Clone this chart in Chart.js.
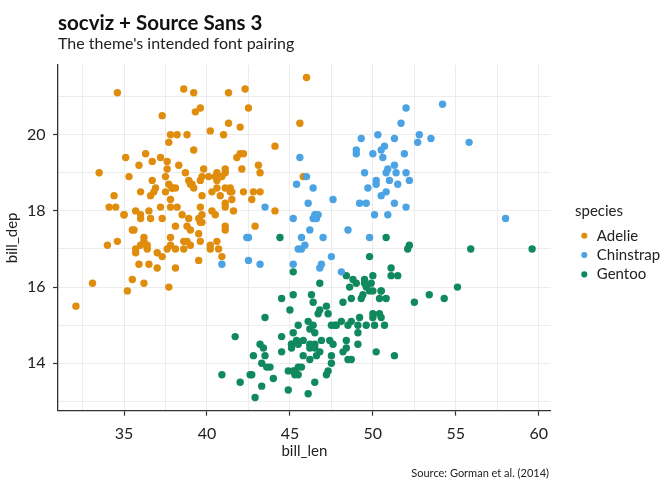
<!DOCTYPE html>
<html><head><meta charset="utf-8">
<script src="https://cdn.jsdelivr.net/npm/chart.js@4.4.1/dist/chart.umd.min.js"></script>
<style>
html,body{margin:0;padding:0;background:#fff;}
#wrap{position:relative;width:672px;height:480px;}
#caption{position:absolute;right:123px;top:466px;font-family:Lato,sans-serif;font-size:11px;color:#222;line-height:14px;white-space:nowrap;}
</style></head><body>
<div id="wrap"><canvas id="c" width="672" height="480"></canvas><div id="caption">Source: Gorman et al. (2014)</div></div>
<script>
const species = ['Adelie', 'Chinstrap', 'Gentoo'];

const adelieLen = [39.1,39.5,40.3,36.7,39.3,38.9,39.2,34.1,42.0,37.8,37.8,41.1,38.6,34.6,36.6,38.7,42.5,34.4,46.0,37.8,37.7,35.9,38.2,38.8,35.3,40.6,40.5,37.9,40.5,39.5,37.2,39.5,40.9,36.4,39.2,38.8,42.2,37.6,39.8,36.5,40.8,36.0,44.1,37.0,39.6,41.1,37.5,36.0,42.3,39.6,40.1,35.0,42.0,34.5,41.4,39.0,40.6,36.5,37.6,35.7,41.3,37.6,41.1,36.4,41.6,35.5,41.1,35.9,41.8,33.5,39.7,39.6,45.8,35.5,42.8,40.9,37.2,36.2,42.1,34.6,42.9,36.7,35.1,37.3,41.3,36.3,36.9,38.3,38.9,35.7,41.1,34.0,39.6,36.2,40.8,38.1,40.3,33.1,43.2,35.0,41.0,37.7,37.8,37.9,39.7,38.6,38.2,38.1,43.2,38.1,45.6,39.7,42.2,39.6,42.7,38.6,37.3,35.7,41.1,36.2,37.7,40.2,41.4,35.2,40.6,38.8,41.5,39.0,44.1,38.5,43.1,36.8,37.5,38.1,41.1,35.6,40.2,37.0,39.7,40.2,40.6,32.1,40.7,37.3,39.0,39.2,36.6,36.0,37.8,36.0,41.5];
const adelieDep = [18.7,17.4,18.0,19.3,20.6,17.8,19.6,18.1,20.2,17.1,17.3,17.6,21.2,21.1,17.8,19.0,20.7,18.4,21.5,18.3,18.7,19.2,18.1,17.2,18.9,18.6,17.9,18.6,18.9,16.7,18.1,17.8,18.9,17.0,21.1,20.0,18.5,19.3,19.1,18.0,18.4,18.5,19.7,16.9,18.8,19.0,18.9,17.9,21.2,17.7,18.9,17.9,19.5,18.1,18.6,17.5,18.8,16.6,19.1,16.9,21.1,17.0,18.2,17.1,18.0,16.2,19.1,16.6,19.4,19.0,18.4,17.2,18.9,17.5,18.5,16.8,19.4,16.1,19.1,17.2,17.6,18.8,19.4,17.8,20.3,19.5,18.6,19.2,18.8,18.0,18.1,17.1,18.1,17.3,18.9,18.6,18.5,16.1,18.5,17.9,20.0,16.0,20.0,18.6,18.9,17.2,20.0,17.0,19.0,16.5,20.3,17.7,19.5,20.7,18.3,17.0,20.5,17.0,18.6,17.2,19.8,17.0,18.5,15.9,19.0,17.6,18.3,17.1,18.0,17.9,19.2,18.5,18.5,17.6,17.5,17.5,20.1,16.5,17.9,17.1,17.2,15.5,17.0,16.8,18.7,18.6,18.4,17.8,18.1,17.1,18.5];

const chinstrapLen = [46.5,50.0,51.3,45.4,52.7,45.2,46.1,51.3,46.0,51.3,46.6,51.7,47.0,52.0,45.9,50.5,50.3,58.0,46.4,49.2,42.4,48.5,43.2,50.6,46.7,52.0,50.5,49.5,46.4,52.8,40.9,54.2,42.5,51.0,49.7,47.5,47.6,52.0,46.9,53.5,49.0,46.2,50.9,45.5,50.9,50.8,50.1,49.0,51.5,49.8,48.1,51.4,45.7,50.7,42.5,52.2,45.2,49.3,50.2,45.6,51.9,46.8,45.7,55.8,43.5,49.6,50.8,50.2];
const chinstrapDep = [17.9,19.5,19.2,18.7,19.8,17.8,18.2,18.2,18.9,19.9,17.8,20.3,17.3,18.1,17.1,19.6,20.0,17.8,18.6,18.2,17.3,17.5,16.6,19.4,17.9,19.0,18.4,19.0,17.8,20.0,16.6,20.8,16.7,18.8,18.6,16.8,18.3,20.7,16.6,19.9,19.5,17.5,19.1,17.0,17.9,18.5,17.9,19.6,18.7,17.3,16.4,19.0,17.3,19.7,17.3,18.8,16.6,19.9,18.8,19.4,19.5,16.5,17.0,19.8,18.1,18.2,19.0,18.7];

const gentooLen = [46.1,50.0,48.7,50.0,47.6,46.5,45.4,46.7,43.3,46.8,40.9,49.0,45.5,48.4,45.8,49.3,42.0,49.2,46.2,48.7,50.2,45.1,46.5,46.3,42.9,46.1,44.5,47.8,48.2,50.0,47.3,42.8,45.1,59.6,49.1,48.4,42.6,44.4,44.0,48.7,42.7,49.6,45.3,49.6,50.5,43.6,45.5,50.5,44.9,45.2,46.6,48.5,45.1,50.1,46.5,45.0,43.8,45.5,43.2,50.4,45.3,46.2,45.7,54.3,45.8,49.8,46.2,49.5,43.5,50.7,47.7,46.4,48.2,46.5,46.4,48.6,47.5,51.1,45.2,45.2,49.1,52.5,47.4,50.0,44.9,50.8,43.4,51.3,47.5,52.1,47.5,52.2,45.5,49.5,44.5,50.8,49.4,46.9,48.4,51.1,48.5,55.9,47.2,49.1,47.3,46.8,41.7,53.4,43.3,48.1,50.5,49.8,43.5,51.5,46.2,55.1,44.5,48.8,47.2,46.8,50.4,45.2,49.9];
const gentooDep = [13.2,16.3,14.1,15.2,14.5,13.5,14.6,15.3,13.4,15.4,13.7,16.1,13.7,14.6,14.6,15.7,13.5,15.2,14.5,15.1,14.3,14.5,14.5,15.8,13.1,15.1,14.3,15.0,14.3,15.3,15.3,14.2,14.5,17.0,14.8,16.3,13.7,17.3,13.6,15.7,13.7,16.0,13.7,15.0,15.9,13.9,13.9,15.9,13.3,15.8,14.2,14.1,14.4,15.0,14.4,15.4,13.9,15.0,14.5,15.3,13.8,14.9,13.9,15.7,14.2,16.8,14.4,16.2,14.2,15.0,15.0,15.6,15.6,14.8,15.0,16.0,14.2,16.3,13.8,16.4,14.5,15.6,14.6,15.9,13.8,17.3,14.4,14.2,14.0,17.0,15.0,17.1,14.5,16.1,14.7,15.7,15.8,14.6,14.4,16.5,15.0,17.0,15.5,15.0,13.8,16.1,14.7,15.8,14.0,15.1,15.2,15.9,15.2,16.3,14.1,16.0,15.7,16.2,13.7,14.3,15.7,14.8,16.1];

const xTickValues = [32.5,35,37.5,40,42.5,45,47.5,50,52.5,55,57.5,60];
const xTickLabels = ['', '35', '', '40', '', '45', '', '50', '', '55', '', '60'];
const yTickValues = [13,14,15,16,17,18,19,20,21];
const yTickLabels = ['', '14', '', '16', '', '18', '', '20', ''];

const palette = {Adelie: '#E08C0C', Chinstrap: '#4CA3E3', Gentoo: '#10895E'};
const drawOrder = {Adelie: 2, Chinstrap: 0, Gentoo: 1};

function pts(xs, ys) { return xs.map((x, i) => ({x: x, y: ys[i]})); }
const seriesData = {
  Adelie: pts(adelieLen, adelieDep),
  Chinstrap: pts(chinstrapLen, chinstrapDep),
  Gentoo: pts(gentooLen, gentooDep)
};

const FAMILY = 'Lato, "Noto Sans", sans-serif';
Chart.defaults.font.family = FAMILY;
Chart.defaults.color = '#222';

// legend geometry: legend box starts at x=575; fill the rest of the width exactly
const legFont = 15, legPad = 4.3, legBox = 10;
const mctx = document.createElement('canvas').getContext('2d');
mctx.font = legFont + 'px ' + FAMILY;
const legTextW = Math.max(...species.map(s => mctx.measureText(s).width));
const legNatural = legPad + legBox + legFont / 2 + legTextW + 10;
const padRight = Math.max(0, 672 - 575 - legNatural);

const majorTick = '#333333';
const gridCol = '#ececec';

new Chart(document.getElementById('c'), {
  type: 'scatter',
  data: {
    datasets: species.map(s => ({
      label: s,
      data: seriesData[s],
      backgroundColor: palette[s],
      borderColor: palette[s],
      borderWidth: 0,
      pointRadius: 3.7,
      pointHoverRadius: 3.7,
      order: drawOrder[s]
    }))
  },
  options: {
    responsive: false,
    animation: false,
    devicePixelRatio: 1,
    layout: {padding: {left: 0, right: padRight, top: 0, bottom: 20}},
    plugins: {
      tooltip: {enabled: false},
      title: {
        display: true, text: 'socviz + Source Sans 3', align: 'start', fullSize: false,
        font: {size: 20.5, weight: 'bold'}, color: '#111', padding: {top: 11, bottom: 0}
      },
      subtitle: {
        display: true, text: "The theme's intended font pairing", align: 'start', fullSize: false,
        font: {size: 16, lineHeight: 1.0}, color: '#222', padding: {top: 0, bottom: 13.4}
      },
      legend: {
        position: 'right', align: 'center',
        labels: {
          usePointStyle: true, pointStyle: 'circle', boxWidth: legBox, boxHeight: 4.3, padding: legPad,
          font: {size: legFont}, color: '#222',
          sort: (a, b) => a.datasetIndex - b.datasetIndex
        },
        title: {display: true, text: 'species', position: 'start', font: {size: 15}, color: '#222', padding: {top: 29.7, bottom: 2.5}}
      }
    },
    scales: {
      x: {
        type: 'linear', position: 'bottom', min: 31.02, max: 60.72,
        afterBuildTicks: s => { s.ticks = xTickValues.map(v => ({value: v})); },
        afterFit: s => { s.height = 49.3; },
        ticks: {
          autoSkip: false, maxRotation: 0, padding: 8.7, font: {size: 16}, color: '#222',
          callback: (v) => { const i = xTickValues.indexOf(v); return i >= 0 ? xTickLabels[i] : ''; }
        },
        grid: {
          color: gridCol, lineWidth: 1, tickLength: 5, tickWidth: 1.2,
          tickColor: c => (c.tick && xTickLabels[xTickValues.indexOf(c.tick.value)] !== '') ? majorTick : 'rgba(0,0,0,0)'
        },
        border: {display: true, color: majorTick, width: 1.3},
        title: {display: true, text: 'bill_len', font: {size: 15}, color: '#222', padding: {top: 0, bottom: 0}}
      },
      y: {
        type: 'linear', position: 'left', min: 12.755, max: 21.83,
        afterBuildTicks: s => { s.ticks = yTickValues.map(v => ({value: v})); },
        afterFit: s => { s.width = 58; },
        ticks: {
          autoSkip: false, padding: 7.5, font: {size: 16}, color: '#222',
          callback: (v) => { const i = yTickValues.indexOf(v); return i >= 0 ? yTickLabels[i] : ''; }
        },
        grid: {
          color: gridCol, lineWidth: 1, tickLength: 5, tickWidth: 1.2,
          tickColor: c => (c.tick && yTickLabels[yTickValues.indexOf(c.tick.value)] !== '') ? majorTick : 'rgba(0,0,0,0)'
        },
        border: {display: true, color: majorTick, width: 1.3},
        title: {display: true, text: 'bill_dep', font: {size: 15}, color: '#222', padding: {top: 3.3, bottom: 0}}
      },
      spacer: {
        type: 'linear', axis: 'y', position: 'right', display: true,
        afterFit: s => { s.width = 24.3; },
        ticks: {display: false}, grid: {display: false}, border: {display: false}, title: {display: false}
      }
    }
  }
});
</script>
</body></html>
